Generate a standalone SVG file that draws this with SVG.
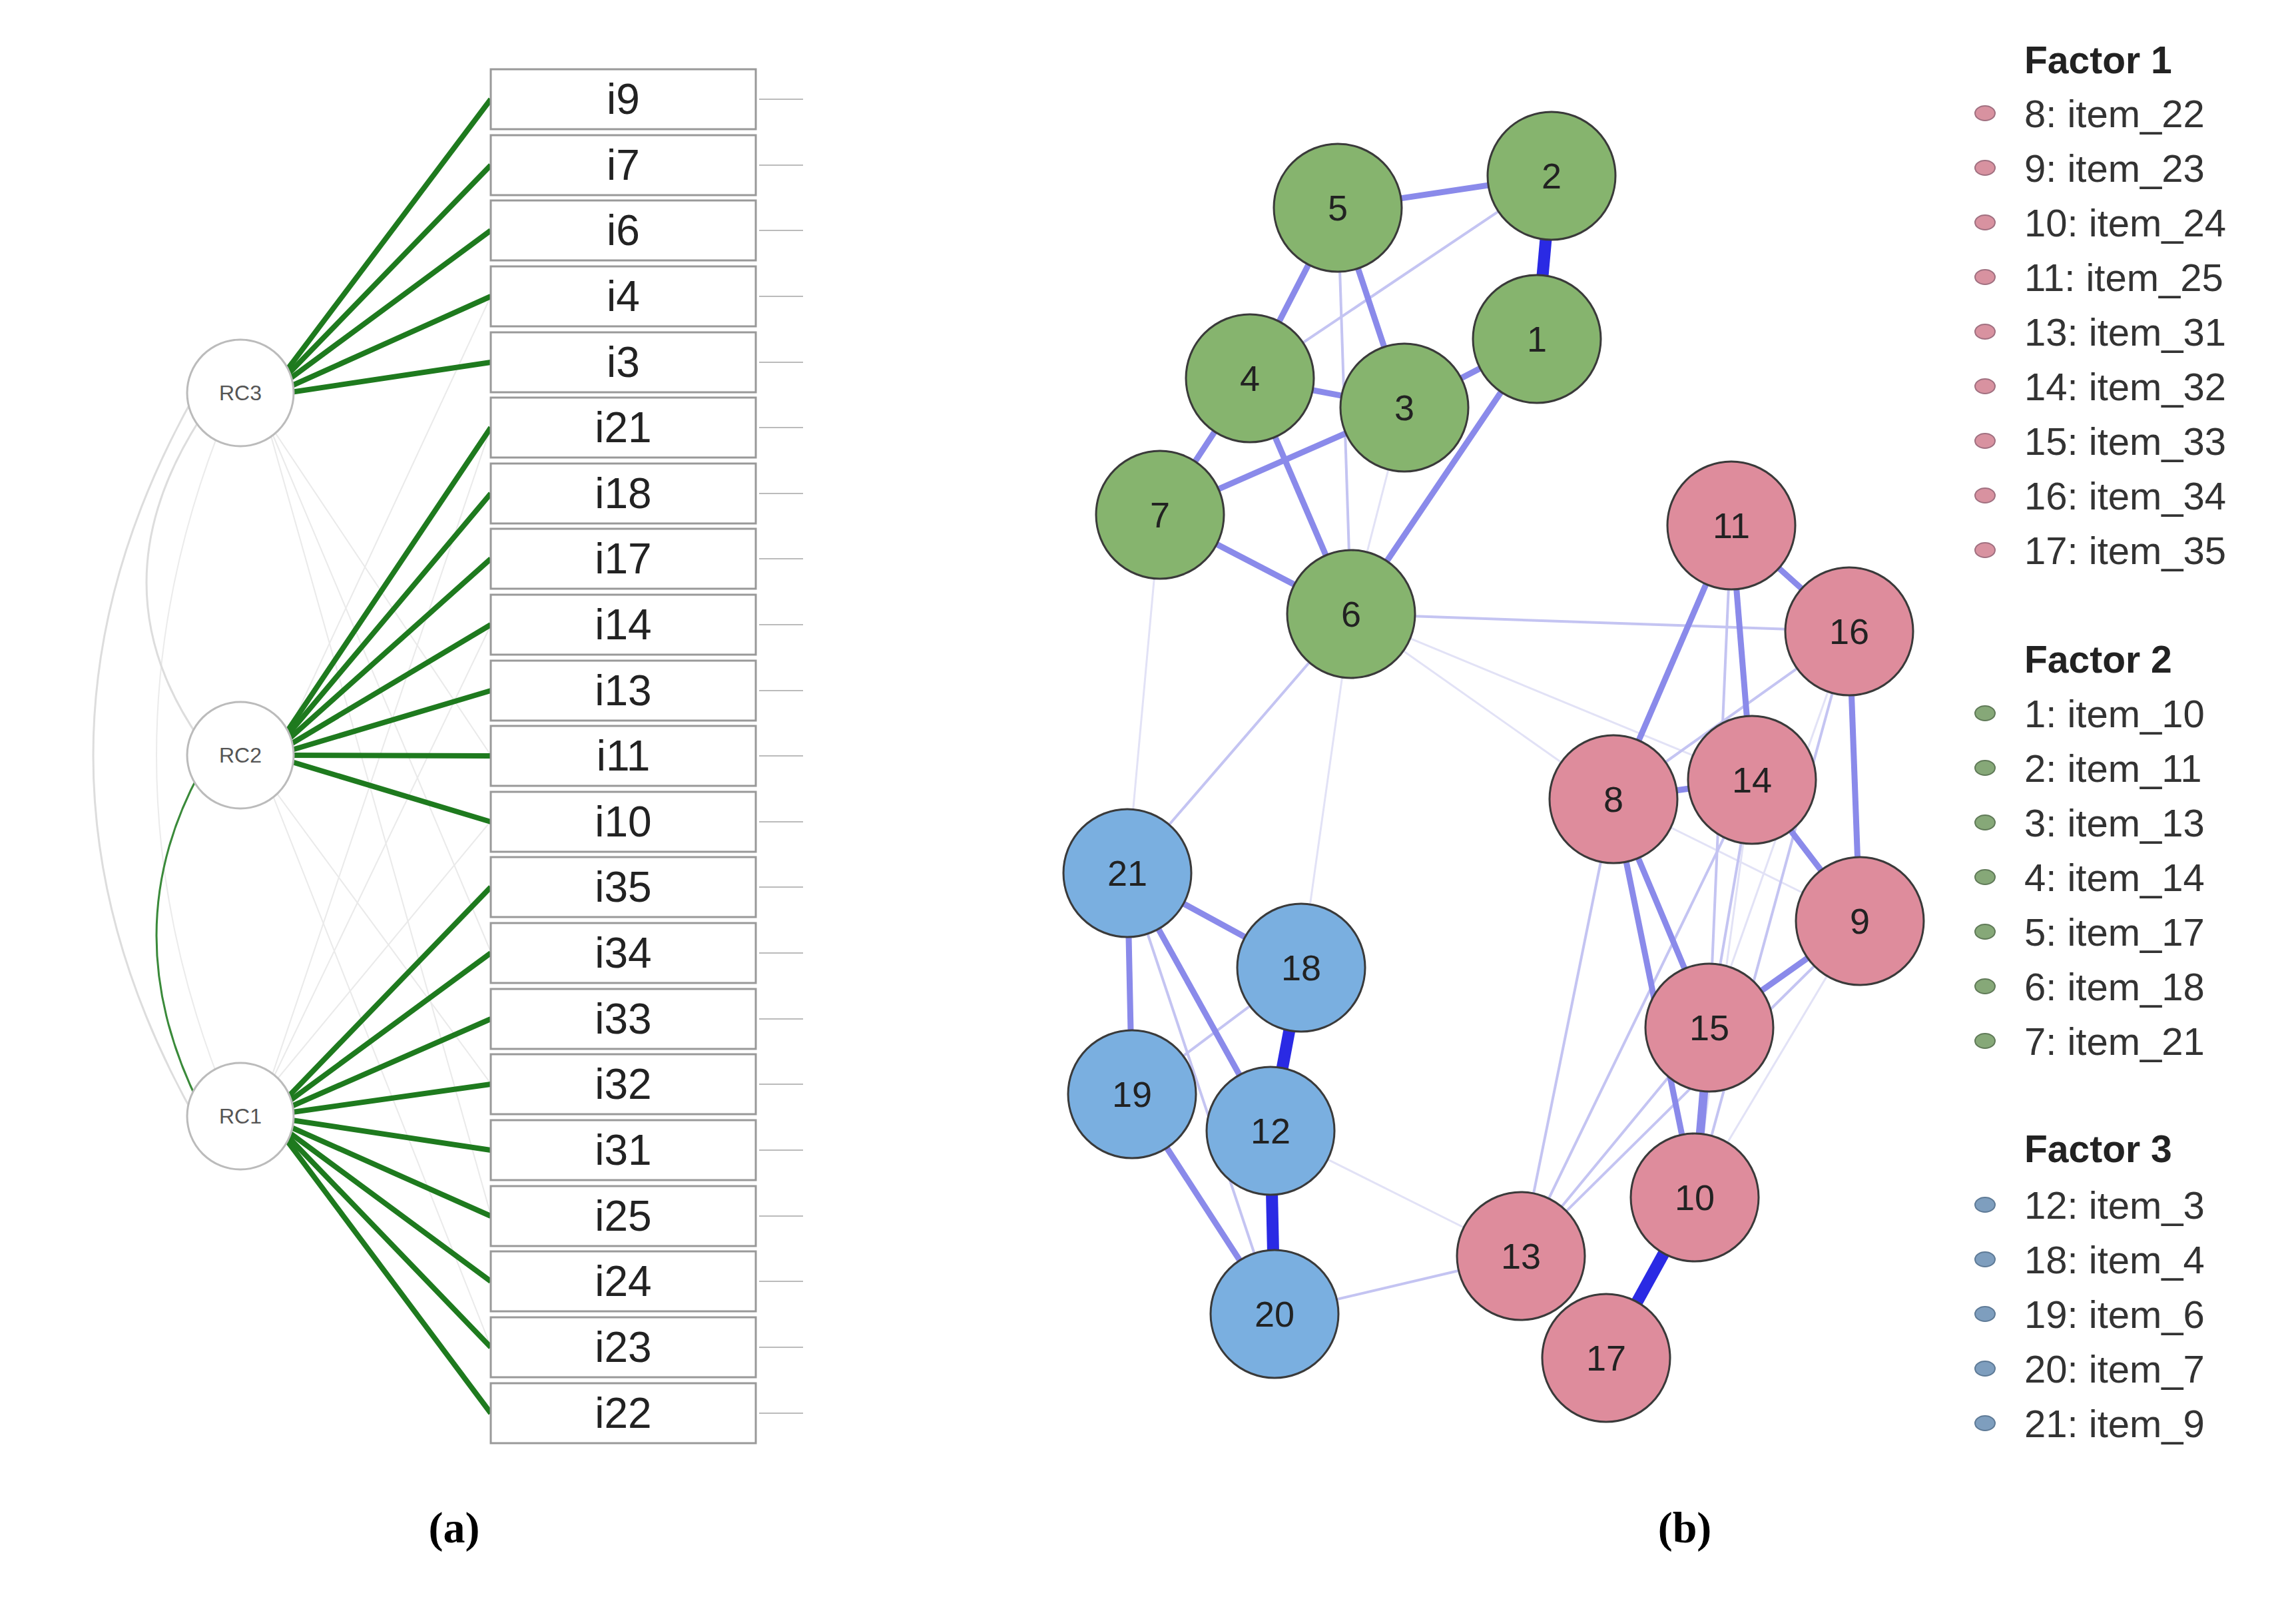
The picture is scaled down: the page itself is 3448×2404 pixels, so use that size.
<svg xmlns="http://www.w3.org/2000/svg" width="3448" height="2404" viewBox="0 0 3448 2404">
<style>
.box{fill:#fff;stroke:#999;stroke-width:3}
.bt{font-family:"Liberation Sans",Arial,sans-serif;font-size:64px;fill:#222;text-anchor:middle;dominant-baseline:central}
.lat{fill:#fff;stroke:#bbb;stroke-width:3}
.lt{font-family:"Liberation Sans",Arial,sans-serif;font-size:32px;fill:#555;text-anchor:middle;dominant-baseline:central}
.ld{stroke:#1e7a1e;stroke-width:8;fill:none}
.faint{stroke:#ddd;stroke-width:2;fill:none;opacity:.6}
.res{stroke:#bbb;stroke-width:2}
.nt{font-family:"Liberation Sans",Arial,sans-serif;font-size:54px;fill:#222;text-anchor:middle;dominant-baseline:central}
.g{fill:#86b46e;stroke:#3a3a3a;stroke-width:3}
.p{fill:#de8c9c;stroke:#3a3a3a;stroke-width:3}
.b{fill:#7aafe0;stroke:#3a3a3a;stroke-width:3}
.s{stroke:#2a2ae4;stroke-width:18}
.m{stroke:#8a8aea;stroke-width:9}
.w{stroke:#c4c4f2;stroke-width:4}
.vw{stroke:#e2e2f6;stroke-width:3}
.h{font-family:"Liberation Sans",Arial,sans-serif;font-size:57px;font-weight:bold;fill:#222}
.it{font-family:"Liberation Sans",Arial,sans-serif;font-size:58px;fill:#333;dominant-baseline:central}
.cap{font-family:"Liberation Serif","Times New Roman",serif;font-size:66px;font-weight:bold;fill:#000;text-anchor:middle}
</style>
<rect width="3448" height="2404" fill="#fff"/>
<g id="connectors-a">
<path class="faint" d="M340 620 Q130 1134 340 1650"/>
<path d="M300 580 Q-20 1134 300 1690" stroke="#ddd" stroke-width="3" fill="none"/>
<path d="M300 630 Q140 880 300 1110" stroke="#ddd" stroke-width="3" fill="none"/>
<path d="M300 1160 Q170 1400 300 1660" stroke="#3a8a3a" stroke-width="3" fill="none"/>
<g class="faint">
<line x1="400" y1="630" x2="737" y2="1134"/><line x1="400" y1="630" x2="737" y2="1429"/><line x1="400" y1="630" x2="737" y2="1824"/>
<line x1="400" y1="1170" x2="737" y2="445"/><line x1="400" y1="1170" x2="737" y2="1627"/><line x1="400" y1="1170" x2="737" y2="2022"/>
<line x1="400" y1="1640" x2="737" y2="642"/><line x1="400" y1="1640" x2="737" y2="939"/><line x1="400" y1="1640" x2="737" y2="1233"/>
</g>
<g class="ld">
<line x1="420" y1="570" x2="737" y2="149"/><line x1="420" y1="575" x2="737" y2="248"/><line x1="420" y1="580" x2="737" y2="346"/><line x1="425" y1="585" x2="737" y2="445"/><line x1="430" y1="590" x2="737" y2="544"/>
<line x1="420" y1="1115" x2="737" y2="642"/><line x1="420" y1="1118" x2="737" y2="741"/><line x1="420" y1="1122" x2="737" y2="839"/><line x1="422" y1="1126" x2="737" y2="938"/><line x1="425" y1="1130" x2="737" y2="1037"/><line x1="430" y1="1134" x2="737" y2="1135"/><line x1="425" y1="1140" x2="737" y2="1234"/>
<line x1="420" y1="1660" x2="737" y2="1332"/><line x1="420" y1="1664" x2="737" y2="1431"/><line x1="422" y1="1668" x2="737" y2="1530"/><line x1="425" y1="1672" x2="737" y2="1628"/><line x1="425" y1="1680" x2="737" y2="1727"/><line x1="422" y1="1686" x2="737" y2="1826"/><line x1="420" y1="1690" x2="737" y2="1924"/><line x1="420" y1="1694" x2="737" y2="2023"/><line x1="420" y1="1698" x2="737" y2="2122"/>
</g>
<g class="res">
<line x1="1140" y1="149" x2="1206" y2="149"/><line x1="1140" y1="248" x2="1206" y2="248"/><line x1="1140" y1="346" x2="1206" y2="346"/><line x1="1140" y1="445" x2="1206" y2="445"/><line x1="1140" y1="544" x2="1206" y2="544"/><line x1="1140" y1="642" x2="1206" y2="642"/><line x1="1140" y1="741" x2="1206" y2="741"/><line x1="1140" y1="839" x2="1206" y2="839"/><line x1="1140" y1="938" x2="1206" y2="938"/><line x1="1140" y1="1037" x2="1206" y2="1037"/><line x1="1140" y1="1135" x2="1206" y2="1135"/><line x1="1140" y1="1234" x2="1206" y2="1234"/><line x1="1140" y1="1332" x2="1206" y2="1332"/><line x1="1140" y1="1431" x2="1206" y2="1431"/><line x1="1140" y1="1530" x2="1206" y2="1530"/><line x1="1140" y1="1628" x2="1206" y2="1628"/><line x1="1140" y1="1727" x2="1206" y2="1727"/><line x1="1140" y1="1826" x2="1206" y2="1826"/><line x1="1140" y1="1924" x2="1206" y2="1924"/><line x1="1140" y1="2023" x2="1206" y2="2023"/><line x1="1140" y1="2122" x2="1206" y2="2122"/>
</g>
</g>
<g id="latents">
<g id="RC3"><circle class="lat" cx="361" cy="590" r="80"/><text class="lt" x="361" y="590">RC3</text></g>
<g id="RC2"><circle class="lat" cx="361" cy="1134" r="80"/><text class="lt" x="361" y="1134">RC2</text></g>
<g id="RC1"><circle class="lat" cx="361" cy="1676" r="80"/><text class="lt" x="361" y="1676">RC1</text></g>
</g>
<g id="items">
<g id="i9"><rect class="box" x="737" y="104" width="398" height="90"/><text class="bt" x="936" y="149">i9</text></g>
<g id="i7"><rect class="box" x="737" y="203" width="398" height="90"/><text class="bt" x="936" y="248">i7</text></g>
<g id="i6"><rect class="box" x="737" y="301" width="398" height="90"/><text class="bt" x="936" y="346">i6</text></g>
<g id="i4"><rect class="box" x="737" y="400" width="398" height="90"/><text class="bt" x="936" y="445">i4</text></g>
<g id="i3"><rect class="box" x="737" y="499" width="398" height="90"/><text class="bt" x="936" y="544">i3</text></g>
<g id="i21"><rect class="box" x="737" y="597" width="398" height="90"/><text class="bt" x="936" y="642">i21</text></g>
<g id="i18"><rect class="box" x="737" y="696" width="398" height="90"/><text class="bt" x="936" y="741">i18</text></g>
<g id="i17"><rect class="box" x="737" y="794" width="398" height="90"/><text class="bt" x="936" y="839">i17</text></g>
<g id="i14"><rect class="box" x="737" y="893" width="398" height="90"/><text class="bt" x="936" y="938">i14</text></g>
<g id="i13"><rect class="box" x="737" y="992" width="398" height="90"/><text class="bt" x="936" y="1037">i13</text></g>
<g id="i11"><rect class="box" x="737" y="1090" width="398" height="90"/><text class="bt" x="936" y="1135">i11</text></g>
<g id="i10"><rect class="box" x="737" y="1189" width="398" height="90"/><text class="bt" x="936" y="1234">i10</text></g>
<g id="i35"><rect class="box" x="737" y="1287" width="398" height="90"/><text class="bt" x="936" y="1332">i35</text></g>
<g id="i34"><rect class="box" x="737" y="1386" width="398" height="90"/><text class="bt" x="936" y="1431">i34</text></g>
<g id="i33"><rect class="box" x="737" y="1485" width="398" height="90"/><text class="bt" x="936" y="1530">i33</text></g>
<g id="i32"><rect class="box" x="737" y="1583" width="398" height="90"/><text class="bt" x="936" y="1628">i32</text></g>
<g id="i31"><rect class="box" x="737" y="1682" width="398" height="90"/><text class="bt" x="936" y="1727">i31</text></g>
<g id="i25"><rect class="box" x="737" y="1781" width="398" height="90"/><text class="bt" x="936" y="1826">i25</text></g>
<g id="i24"><rect class="box" x="737" y="1879" width="398" height="90"/><text class="bt" x="936" y="1924">i24</text></g>
<g id="i23"><rect class="box" x="737" y="1978" width="398" height="90"/><text class="bt" x="936" y="2023">i23</text></g>
<g id="i22"><rect class="box" x="737" y="2077" width="398" height="90"/><text class="bt" x="936" y="2122">i22</text></g>
</g>
<g id="connectors-b">
<g class="vw">
<line x1="2029" y1="922" x2="2423" y2="1200"/><line x1="2029" y1="922" x2="2631" y2="1171"/><line x1="1742" y1="773" x2="1693" y2="1311"/><line x1="2029" y1="922" x2="1954" y2="1453"/><line x1="1908" y1="1698" x2="2284" y2="1886"/><line x1="2423" y1="1200" x2="2793" y2="1383"/><line x1="2631" y1="1171" x2="2545" y2="1798"/><line x1="2777" y1="948" x2="2567" y2="1543"/><line x1="2793" y1="1383" x2="2545" y2="1798"/><line x1="2109" y1="612" x2="2029" y2="922"/>
</g>
<g class="w">
<line x1="2009" y1="312" x2="2029" y2="922"/><line x1="2029" y1="922" x2="1693" y2="1311"/><line x1="2029" y1="922" x2="2777" y2="948"/><line x1="1914" y1="1973" x2="2284" y2="1886"/><line x1="2284" y1="1886" x2="2423" y2="1200"/><line x1="2284" y1="1886" x2="2631" y2="1171"/><line x1="2284" y1="1886" x2="2567" y2="1543"/><line x1="2284" y1="1886" x2="2793" y2="1383"/><line x1="2423" y1="1200" x2="2777" y2="948"/><line x1="2631" y1="1171" x2="2567" y2="1543"/><line x1="2600" y1="789" x2="2567" y2="1543"/><line x1="1693" y1="1311" x2="1914" y2="1973"/><line x1="1700" y1="1643" x2="1954" y2="1453"/><line x1="1877" y1="568" x2="2330" y2="264"/><line x1="2777" y1="948" x2="2545" y2="1798"/>
</g>
<g class="m">
<line x1="2009" y1="312" x2="2330" y2="264"/><line x1="2009" y1="312" x2="1877" y2="568"/><line x1="2009" y1="312" x2="2109" y2="612"/><line x1="2109" y1="612" x2="2308" y2="509"/><line x1="1877" y1="568" x2="2109" y2="612"/><line x1="1877" y1="568" x2="1742" y2="773"/><line x1="1742" y1="773" x2="2029" y2="922"/><line x1="1877" y1="568" x2="2029" y2="922"/><line x1="2308" y1="509" x2="2029" y2="922"/><line x1="1742" y1="773" x2="2109" y2="612"/>
<line x1="1693" y1="1311" x2="1700" y2="1643"/><line x1="1693" y1="1311" x2="1908" y2="1698"/><line x1="1693" y1="1311" x2="1954" y2="1453"/><line x1="1700" y1="1643" x2="1914" y2="1973"/>
<line x1="2600" y1="789" x2="2423" y2="1200"/><line x1="2600" y1="789" x2="2631" y2="1171"/><line x1="2600" y1="789" x2="2777" y2="948"/><line x1="2777" y1="948" x2="2793" y2="1383"/><line x1="2793" y1="1383" x2="2567" y2="1543"/><line x1="2423" y1="1200" x2="2567" y2="1543"/><line x1="2631" y1="1171" x2="2793" y2="1383"/><line x1="2423" y1="1200" x2="2631" y2="1171"/><line x1="2567" y1="1543" x2="2545" y2="1798" stroke-width="13"/><line x1="2423" y1="1200" x2="2545" y2="1798"/>
</g>
<g class="s">
<line x1="2308" y1="509" x2="2330" y2="264"/><line x1="1908" y1="1698" x2="1954" y2="1453"/><line x1="1908" y1="1698" x2="1914" y2="1973"/><line x1="2545" y1="1798" x2="2412" y2="2039"/>
</g>
</g>
<g id="nodes">
<g id="n1"><circle class="g" cx="2308" cy="509" r="96"/><text class="nt" x="2308" y="509">1</text></g>
<g id="n2"><circle class="g" cx="2330" cy="264" r="96"/><text class="nt" x="2330" y="264">2</text></g>
<g id="n3"><circle class="g" cx="2109" cy="612" r="96"/><text class="nt" x="2109" y="612">3</text></g>
<g id="n4"><circle class="g" cx="1877" cy="568" r="96"/><text class="nt" x="1877" y="568">4</text></g>
<g id="n5"><circle class="g" cx="2009" cy="312" r="96"/><text class="nt" x="2009" y="312">5</text></g>
<g id="n6"><circle class="g" cx="2029" cy="922" r="96"/><text class="nt" x="2029" y="922">6</text></g>
<g id="n7"><circle class="g" cx="1742" cy="773" r="96"/><text class="nt" x="1742" y="773">7</text></g>
<g id="n8"><circle class="p" cx="2423" cy="1200" r="96"/><text class="nt" x="2423" y="1200">8</text></g>
<g id="n9"><circle class="p" cx="2793" cy="1383" r="96"/><text class="nt" x="2793" y="1383">9</text></g>
<g id="n10"><circle class="p" cx="2545" cy="1798" r="96"/><text class="nt" x="2545" y="1798">10</text></g>
<g id="n11"><circle class="p" cx="2600" cy="789" r="96"/><text class="nt" x="2600" y="789">11</text></g>
<g id="n14"><circle class="p" cx="2631" cy="1171" r="96"/><text class="nt" x="2631" y="1171">14</text></g>
<g id="n15"><circle class="p" cx="2567" cy="1543" r="96"/><text class="nt" x="2567" y="1543">15</text></g>
<g id="n16"><circle class="p" cx="2777" cy="948" r="96"/><text class="nt" x="2777" y="948">16</text></g>
<g id="n13"><circle class="p" cx="2284" cy="1886" r="96"/><text class="nt" x="2284" y="1886">13</text></g>
<g id="n17"><circle class="p" cx="2412" cy="2039" r="96"/><text class="nt" x="2412" y="2039">17</text></g>
<g id="n12"><circle class="b" cx="1908" cy="1698" r="96"/><text class="nt" x="1908" y="1698">12</text></g>
<g id="n18"><circle class="b" cx="1954" cy="1453" r="96"/><text class="nt" x="1954" y="1453">18</text></g>
<g id="n19"><circle class="b" cx="1700" cy="1643" r="96"/><text class="nt" x="1700" y="1643">19</text></g>
<g id="n20"><circle class="b" cx="1914" cy="1973" r="96"/><text class="nt" x="1914" y="1973">20</text></g>
<g id="n21"><circle class="b" cx="1693" cy="1311" r="96"/><text class="nt" x="1693" y="1311">21</text></g>
</g>
<g id="legend">
<text class="h" x="3040" y="110">Factor 1</text>
<g fill="#d892a0" stroke="#a07080" stroke-width="2">
<ellipse cx="2981" cy="170" rx="15" ry="11"/><ellipse cx="2981" cy="252" rx="15" ry="11"/><ellipse cx="2981" cy="334" rx="15" ry="11"/><ellipse cx="2981" cy="416" rx="15" ry="11"/><ellipse cx="2981" cy="498" rx="15" ry="11"/><ellipse cx="2981" cy="580" rx="15" ry="11"/><ellipse cx="2981" cy="662" rx="15" ry="11"/><ellipse cx="2981" cy="744" rx="15" ry="11"/><ellipse cx="2981" cy="826" rx="15" ry="11"/>
</g>
<text class="it" x="3040" y="170">8: item_22</text><text class="it" x="3040" y="252">9: item_23</text><text class="it" x="3040" y="334">10: item_24</text><text class="it" x="3040" y="416">11: item_25</text><text class="it" x="3040" y="498">13: item_31</text><text class="it" x="3040" y="580">14: item_32</text><text class="it" x="3040" y="662">15: item_33</text><text class="it" x="3040" y="744">16: item_34</text><text class="it" x="3040" y="826">17: item_35</text>
<text class="h" x="3040" y="1010">Factor 2</text>
<g fill="#86a878" stroke="#607a58" stroke-width="2">
<ellipse cx="2981" cy="1071" rx="15" ry="11"/><ellipse cx="2981" cy="1153" rx="15" ry="11"/><ellipse cx="2981" cy="1235" rx="15" ry="11"/><ellipse cx="2981" cy="1317" rx="15" ry="11"/><ellipse cx="2981" cy="1399" rx="15" ry="11"/><ellipse cx="2981" cy="1481" rx="15" ry="11"/><ellipse cx="2981" cy="1563" rx="15" ry="11"/>
</g>
<text class="it" x="3040" y="1071">1: item_10</text><text class="it" x="3040" y="1153">2: item_11</text><text class="it" x="3040" y="1235">3: item_13</text><text class="it" x="3040" y="1317">4: item_14</text><text class="it" x="3040" y="1399">5: item_17</text><text class="it" x="3040" y="1481">6: item_18</text><text class="it" x="3040" y="1563">7: item_21</text>
<text class="h" x="3040" y="1745">Factor 3</text>
<g fill="#7e9ebe" stroke="#5e7a96" stroke-width="2">
<ellipse cx="2981" cy="1809" rx="15" ry="11"/><ellipse cx="2981" cy="1891" rx="15" ry="11"/><ellipse cx="2981" cy="1973" rx="15" ry="11"/><ellipse cx="2981" cy="2055" rx="15" ry="11"/><ellipse cx="2981" cy="2137" rx="15" ry="11"/>
</g>
<text class="it" x="3040" y="1809">12: item_3</text><text class="it" x="3040" y="1891">18: item_4</text><text class="it" x="3040" y="1973">19: item_6</text><text class="it" x="3040" y="2055">20: item_7</text><text class="it" x="3040" y="2137">21: item_9</text>
</g>
<text class="cap" x="682" y="2316">(a)</text>
<text class="cap" x="2530" y="2316">(b)</text>
</svg>
